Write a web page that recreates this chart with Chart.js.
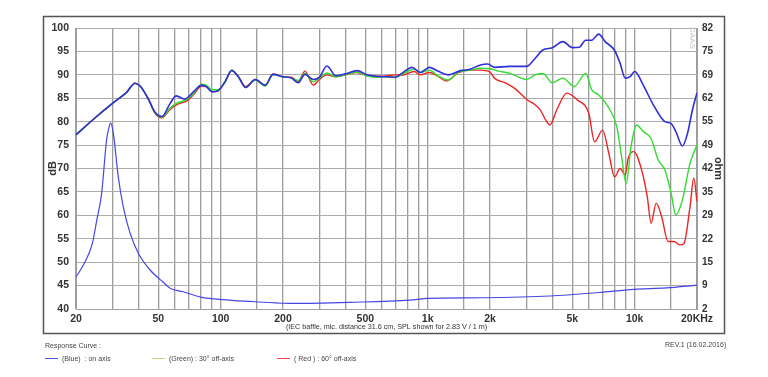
<!DOCTYPE html>
<html>
<head>
<meta charset="utf-8">
<script src="https://cdn.jsdelivr.net/npm/chart.js@4.4.1/dist/chart.umd.min.js"></script>
<style>
    body { margin: 0; background: #fff; font-family: 'Liberation Sans', Arial, sans-serif; }
    #wrap { position: relative; width: 768px; height: 377px; }
    .note { position: absolute; font-size: 7px; color: #444; white-space: nowrap; }
    .key { position: absolute; top: 354px; height: 9px; font-size: 7px; color: #444; white-space: nowrap; display: flex; align-items: center; }
    .key i { display: inline-block; width: 13px; height: 1px; margin-right: 4px; }
</style>
</head>
<body>
<div id="wrap">
    <canvas id="fr" width="768" height="377"></canvas>
    <div class="note" style="left:45px; top:342px;">Response Curve :</div>
    <div class="key" style="left:45px;"><i style="background:#5050e0"></i>(Blue)&nbsp; : on axis</div>
    <div class="key" style="left:152px;"><i style="background:#b8dc78"></i>(Green) : 30° off-axis</div>
    <div class="key" style="left:277px;"><i style="background:#f04848"></i>( Red ) : 60° off-axis</div>
    <div class="note" style="left:665px; top:341px;">REV.1 (16.02.2016)</div>
</div>
<script>
// --- Data ----------------------------------------------------------------

// on axis (blue)
const FREQ_ON = [20, 25, 30, 35, 38.6, 41, 45, 48, 52, 57, 61, 67, 74, 81, 85, 91, 97, 105, 113, 122,
    132, 147, 164, 179, 200, 220, 237, 255, 280, 300, 326, 360, 400, 456, 510, 560, 610, 700, 750, 840,
    920, 1020, 1120, 1260, 1440, 1600, 1800, 1950, 2100, 2500, 3000, 3300, 3600, 4000, 4500, 5000, 5400,
    5800, 6200, 6700, 7200, 8000, 8500, 9000, 9500, 10000, 11000, 12300, 14000, 15000, 15800, 17000,
    18000, 19000, 20000];
const SPL_ON = [77.2, 81.0, 83.9, 86.2, 88.2, 87.5, 84.6, 82.1, 81.1, 83.9, 85.5, 84.8, 86.4, 87.8, 87.5,
    86.4, 86.6, 88.5, 90.9, 89.5, 87.3, 89.0, 87.8, 90.1, 89.6, 89.3, 88.3, 90.1, 89.0, 89.5, 91.9, 89.8,
    90.2, 90.9, 90.0, 89.7, 89.6, 89.5, 90.3, 91.6, 90.5, 91.6, 90.8, 90.0, 90.9, 91.2, 92.1, 92.3, 91.6,
    91.8, 91.8, 93.5, 95.3, 95.8, 97.1, 95.8, 95.9, 97.4, 97.4, 98.7, 97.1, 95.2, 92.5, 89.3, 89.6, 90.7,
    87.8, 83.6, 80.0, 79.6, 77.9, 74.8, 77.5, 82.5, 86.2];

// 30° off axis (green)
const FREQ_30 = [20, 25, 30, 35, 38.6, 41, 45, 48, 52, 57, 61, 69, 74, 81, 85, 91, 97, 105, 113, 122,
    132, 147, 164, 179, 200, 220, 237, 255, 280, 300, 326, 360, 400, 456, 510, 560, 610, 700, 750, 860,
    920, 1020, 1120, 1260, 1400, 1600, 1800, 2000, 2200, 2500, 3000, 3300, 3600, 4000, 4500, 5100, 5800,
    6200, 6700, 7600, 8200, 8600, 9100, 9600, 10200, 11000, 12000, 13000, 14000, 15000, 15800, 17000,
    18500, 20000];
const SPL_30 = [77.2, 81.0, 83.9, 86.2, 88.2, 87.5, 84.6, 82.0, 81.0, 82.9, 83.9, 84.8, 86.0, 88.0, 87.8,
    86.8, 86.8, 88.6, 91.0, 89.6, 87.3, 88.9, 87.6, 90.0, 89.6, 89.3, 88.8, 90.3, 88.5, 89.3, 90.4, 89.6,
    90.0, 90.6, 89.8, 89.5, 89.6, 89.5, 90.1, 91.2, 90.5, 91.0, 89.8, 88.9, 90.5, 91.0, 91.4, 91.3, 90.8,
    90.3, 89.0, 90.0, 90.3, 88.3, 89.3, 87.5, 90.3, 86.8, 85.7, 82.5, 78.9, 73.2, 66.8, 74.7, 79.3, 77.9,
    76.4, 71.8, 69.7, 64.7, 60.1, 63.3, 71.1, 75.0];

// 60° off axis (red)
const FREQ_60 = [20, 25, 30, 35, 38.6, 41, 45, 48, 52, 57, 61, 69, 74, 81, 85, 91, 97, 105, 113, 122,
    132, 147, 164, 179, 200, 220, 237, 255, 280, 300, 326, 360, 400, 456, 510, 560, 610, 700, 750, 860,
    920, 1020, 1120, 1230, 1400, 1600, 1800, 2000, 2100, 2400, 2650, 3000, 3300, 3500, 3700, 3900, 4200,
    4700, 5300, 6000, 6400, 7000, 7500, 8000, 8500, 9000, 9300, 9900, 10800, 11500, 12000, 12700, 13500,
    14500, 15500, 16500, 17300, 18500, 19300, 20000];
const SPL_60 = [77.2, 81.0, 83.9, 86.2, 88.2, 87.5, 84.6, 81.9, 80.8, 82.6, 83.6, 84.5, 85.8, 87.6, 87.5,
    86.4, 86.6, 88.5, 91.0, 89.6, 87.5, 89.0, 87.7, 90.2, 89.6, 89.5, 88.6, 90.8, 87.8, 89.0, 90.0, 89.6,
    90.0, 90.5, 89.8, 89.7, 89.7, 90.0, 89.9, 90.7, 90.0, 90.5, 89.7, 88.7, 90.4, 91.0, 91.0, 90.6, 89.3,
    88.2, 87.0, 84.8, 83.6, 82.5, 80.5, 79.3, 82.5, 86.1, 84.6, 81.8, 75.7, 78.2, 73.2, 68.2, 70.0, 68.6,
    72.2, 73.6, 69.7, 64.0, 58.3, 62.6, 59.7, 54.4, 54.4, 53.7, 54.0, 61.8, 68.0, 62.9];

// impedance (ohm, right axis)
const FREQ_Z = [20, 21.7, 24, 25.2, 26.6, 28.1, 28.8, 29.4, 30.3, 32, 33.8, 36.5, 40, 45.6, 52.6, 57, 66,
    80, 88, 124, 155, 216, 420, 820, 1000, 1850, 3900, 6700, 9900, 14200, 20000];
const OHM_Z = [11.1, 14.5, 20.7, 27.3, 34.9, 50.1, 53.5, 55.0, 52.0, 39.7, 31.2, 23.6, 17.9, 13.1, 9.7,
    7.9, 6.9, 5.4, 5.0, 4.3, 4.0, 3.6, 3.9, 4.5, 5.0, 5.2, 5.7, 6.7, 7.6, 8.0, 8.8];

// axes
const GRID_FREQS = [20, 30, 40, 50, 60, 70, 80, 90, 100, 150, 200, 300, 400, 500, 600, 700, 800, 900,
    1000, 1500, 2000, 3000, 4000, 5000, 6000, 7000, 8000, 9000, 10000, 15000, 20000];
const LABEL_FREQS = [20, 50, 100, 200, 500, 1000, 2000, 5000, 10000, 20000];
const LABEL_TEXT = ['20', '50', '100', '200', '500', '1k', '2k', '5k', '10k', '20KHz'];
const OHM_LABELS = ['2', '9', '15', '22', '29', '35', '42', '49', '55', '62', '69', '75', '82'];

// --- Chart ---------------------------------------------------------------

const TXT = '#333';
const FAMILY = "'Liberation Sans', Arial, sans-serif";
const tickFont = { family: FAMILY, size: 10.5, weight: 'bold' };

function pts(freqs, vals) {
    return freqs.map((f, i) => ({ x: f, y: vals[i] }));
}

function line(label, data, color, width, axis) {
    return {
        label,
        data,
        borderColor: color,
        borderWidth: width,
        pointRadius: 0,
        cubicInterpolationMode: 'monotone',
        yAxisID: axis,
    };
}

// outer frame + watermark
const framePlugin = {
    id: 'frame',
    afterDraw(chart) {
        const ctx = chart.ctx;
        ctx.save();
        ctx.strokeStyle = '#555';
        ctx.lineWidth = 1.5;
        ctx.strokeRect(43.5, 16.5, 681, 317);
        ctx.translate(692, 38);
        ctx.rotate(Math.PI / 2);
        ctx.fillStyle = '#c4c4c4';
        ctx.font = '8px ' + FAMILY;
        ctx.textAlign = 'center';
        ctx.textBaseline = 'middle';
        ctx.fillText('DAAS', 0, 0);
        ctx.restore();
    },
};

new Chart(document.getElementById('fr'), {
    type: 'line',
    data: {
        datasets: [
            line('(Blue) : on axis', pts(FREQ_ON, SPL_ON), '#2f2fd8', 1.6, 'y'),
            line('(Green) : 30° off-axis', pts(FREQ_30, SPL_30), '#30dd30', 1.4, 'y'),
            line('( Red ) : 60° off-axis', pts(FREQ_60, SPL_60), '#ee2424', 1.4, 'y'),
            line('Impedance', pts(FREQ_Z, OHM_Z), '#4646e6', 1.2, 'y2'),
        ],
    },
    options: {
        responsive: false,
        animation: false,
        layout: { padding: { left: 43, right: 43, top: 28, bottom: 44 } },
        plugins: { legend: { display: false }, tooltip: { enabled: false } },
        scales: {
            x: {
                type: 'logarithmic',
                min: 20,
                max: 20000,
                afterBuildTicks: (axis) => { axis.ticks = GRID_FREQS.map((v) => ({ value: v })); },
                afterFit: (axis) => { axis.height = 24; },
                ticks: {
                    autoSkip: false,
                    maxRotation: 0,
                    padding: 4,
                    color: TXT,
                    font: tickFont,
                    callback: (v) => {
                        const i = LABEL_FREQS.indexOf(v);
                        return i >= 0 ? LABEL_TEXT[i] : '';
                    },
                },
                grid: { color: '#9c9c9c', lineWidth: 1.3, drawTicks: false },
                border: { color: '#a0a0a0' },
                title: {
                    display: true,
                    text: '(IEC baffle, mic. distance 31.6 cm, SPL shown for 2.83 V / 1 m)',
                    color: TXT,
                    font: { family: FAMILY, size: 7.2 },
                    padding: { top: 0, bottom: 1.5 },
                },
            },
            y: {
                position: 'left',
                min: 40,
                max: 100,
                afterFit: (axis) => { axis.width = 33; },
                ticks: { stepSize: 5, padding: 7, color: TXT, font: tickFont },
                grid: { color: '#acacac', lineWidth: 1, drawTicks: false },
                border: { color: '#a0a0a0' },
                title: {
                    display: true,
                    text: 'dB',
                    color: TXT,
                    font: { family: FAMILY, size: 11, weight: 'bold' },
                    padding: { top: 3, bottom: 0 },
                },
            },
            y2: {
                position: 'right',
                min: 2,
                max: 82,
                afterBuildTicks: (axis) => {
                    axis.ticks = OHM_LABELS.map((_, i) => ({ value: 2 + (i * 80) / 12 }));
                },
                afterFit: (axis) => { axis.width = 28; },
                ticks: {
                    padding: 5,
                    color: TXT,
                    font: { family: FAMILY, size: 10, weight: 'bold' },
                    callback: (v, i) => OHM_LABELS[i],
                },
                grid: { display: false, drawTicks: false },
                border: { color: '#a0a0a0' },
                title: {
                    display: true,
                    text: 'ohm',
                    color: TXT,
                    font: { family: FAMILY, size: 11, weight: 'bold' },
                    padding: { top: 0, bottom: 0 },
                },
            },
        },
    },
    plugins: [framePlugin],
});
</script>
</body>
</html>
